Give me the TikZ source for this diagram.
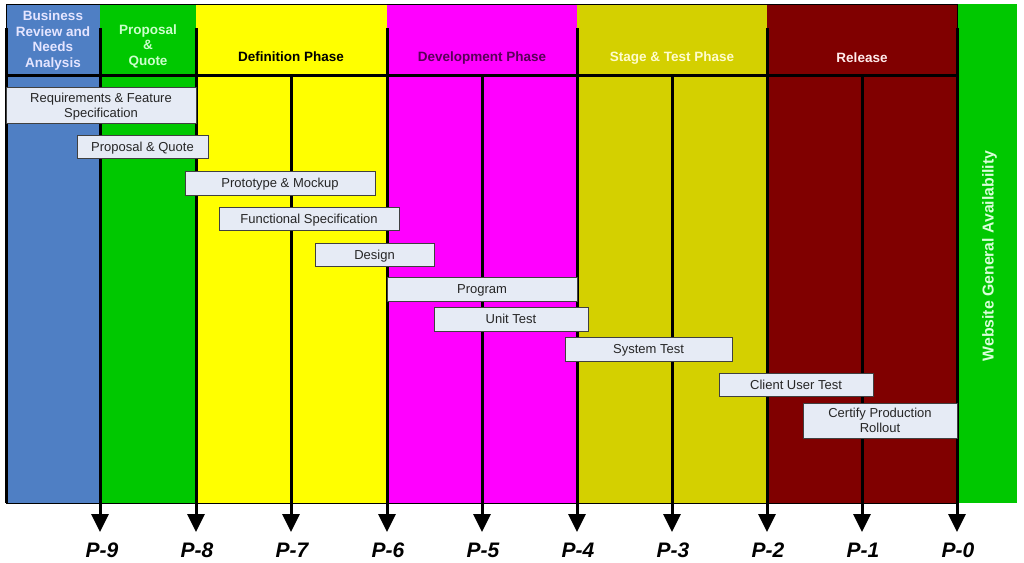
\documentclass[tikz,border=0pt]{standalone}
\usepackage{fontspec}
\setmainfont{Liberation Sans}
\usetikzlibrary{arrows.meta}
\definecolor{bandblue}{RGB}{79,127,196}
\definecolor{bandgreen}{RGB}{0,200,0}
\definecolor{bandyellow}{RGB}{255,255,0}
\definecolor{bandmagenta}{RGB}{255,0,255}
\definecolor{bandolive}{RGB}{212,208,0}
\definecolor{bandred}{RGB}{128,0,0}
\definecolor{taskfill}{RGB}{230,235,245}
\definecolor{taskline}{RGB}{64,64,64}
\begin{document}
\begin{tikzpicture}[x=1pt,y=-1pt,
        task/.style={draw=taskline, fill=taskfill, line width=0.8pt, inner sep=0pt, align=center, text depth=0pt, text=black!85, font=\fontsize{13}{15}\selectfont},
        header/.style={align=center, text depth=0pt, font=\bfseries\fontsize{13.5}{15.7}\selectfont},
        phaseline/.style={line width=3pt},
        parrow/.style={line width=3pt, -{Triangle[width=17pt,length=18pt]}},
        plabel/.style={font=\bfseries\itshape\fontsize{21}{24}\selectfont}]
        \useasboundingbox (0,0) rectangle (1024,562);
        % Draw phase bands
        \fill[bandblue] (6,4) rectangle (100,503);
        \fill[bandgreen] (100,4) rectangle (196,503);
        \fill[bandyellow] (196,4) rectangle (387,503);
        \fill[bandmagenta] (387,4) rectangle (577,503);
        \fill[bandolive] (577,4) rectangle (767,503);
        \fill[bandred] (767,4) rectangle (957,503);
        \fill[bandgreen] (957,4) rectangle (1017,503);
        \draw[line width=0.8pt] (6,4) rectangle (957,503);
        % Phase headers
        \node[header, text=blue!10!white] (business) at (53,39) {Business\\Review and\\Needs\\Analysis};
        \node[header, text=green!20!white] (proposal) at (148,45) {Proposal\\\&\\Quote};
        \node[header] (definition) at (291,57) {Definition Phase};
        \node[header, text=violet!70!black] (development) at (482,57) {Development Phase};
        \node[header, text=yellow!20!white] (stage) at (672,57) {Stage \& Test Phase};
        \node[header, text=red!8!white] (release) at (862,58) {Release};
        \node[header, text=green!15!white, rotate=90, font=\bfseries\fontsize{15.8}{18}\selectfont] (website) at (988,256) {Website General Availability};
        % Draw header and vertical lines
        \draw[phaseline] (6,75) -- (957,75);
        \coordinate (left) at (6,28);
        \coordinate (leftend) at (6,503);
        \draw[phaseline] (left) -- (leftend);
        % phase boundaries start in the header, the others under it
        \coordinate (t9) at (100,28);
        \coordinate (t8) at (196,28);
        \coordinate (t7) at (291,75);
        \coordinate (t6) at (387,28);
        \coordinate (t5) at (482,75);
        \coordinate (t4) at (577,28);
        \coordinate (t3) at (672,75);
        \coordinate (t2) at (767,28);
        \coordinate (t1) at (862,75);
        \coordinate (t0) at (957,28);
        \coordinate (e9) at (100,532);
        \coordinate (e8) at (196,532);
        \coordinate (e7) at (291,532);
        \coordinate (e6) at (387,532);
        \coordinate (e5) at (482,532);
        \coordinate (e4) at (577,532);
        \coordinate (e3) at (672,532);
        \coordinate (e2) at (767,532);
        \coordinate (e1) at (862,532);
        \coordinate (e0) at (957,532);
        \draw[parrow] (t9) -- (e9);
        \draw[parrow] (t8) -- (e8);
        \draw[parrow] (t7) -- (e7);
        \draw[parrow] (t6) -- (e6);
        \draw[parrow] (t5) -- (e5);
        \draw[parrow] (t4) -- (e4);
        \draw[parrow] (t3) -- (e3);
        \draw[parrow] (t2) -- (e2);
        \draw[parrow] (t1) -- (e1);
        \draw[parrow] (t0) -- (e0);
        % Label milestones
        \node[plabel] (p9) at (102,550) {P-9};
        \node[plabel] (p8) at (197,550) {P-8};
        \node[plabel] (p7) at (292,550) {P-7};
        \node[plabel] (p6) at (388,550) {P-6};
        \node[plabel] (p5) at (483,550) {P-5};
        \node[plabel] (p4) at (578,550) {P-4};
        \node[plabel] (p3) at (673,550) {P-3};
        \node[plabel] (p2) at (768,550) {P-2};
        \node[plabel] (p1) at (863,550) {P-1};
        \node[plabel] (p0) at (958,550) {P-0};
        % Tasks
        \node[task, minimum width=190pt, minimum height=36pt] (req) at (101,105) {Requirements \& Feature\\Specification};
        \node[task, minimum width=131pt, minimum height=23pt] (quote) at (142.5,146.5) {Proposal \& Quote};
        \node[task, minimum width=190pt, minimum height=24pt] (proto) at (280,183) {Prototype \& Mockup};
        \node[task, minimum width=180pt, minimum height=23pt] (func) at (309,218.5) {Functional Specification};
        \node[task, minimum width=119pt, minimum height=23pt] (design) at (374.5,254.5) {Design};
        \node[task, minimum width=190pt, minimum height=24pt] (program) at (482,289) {Program};
        \node[task, minimum width=154pt, minimum height=24pt] (unit) at (511,319) {Unit Test};
        \node[task, minimum width=167pt, minimum height=24pt] (system) at (648.5,349) {System Test};
        \node[task, minimum width=154pt, minimum height=23pt] (client) at (796,384.5) {Client User Test};
        \node[task, minimum width=154pt, minimum height=35pt] (certify) at (880,420.5) {Certify Production\\Rollout};
    \end{tikzpicture}
\end{document}
